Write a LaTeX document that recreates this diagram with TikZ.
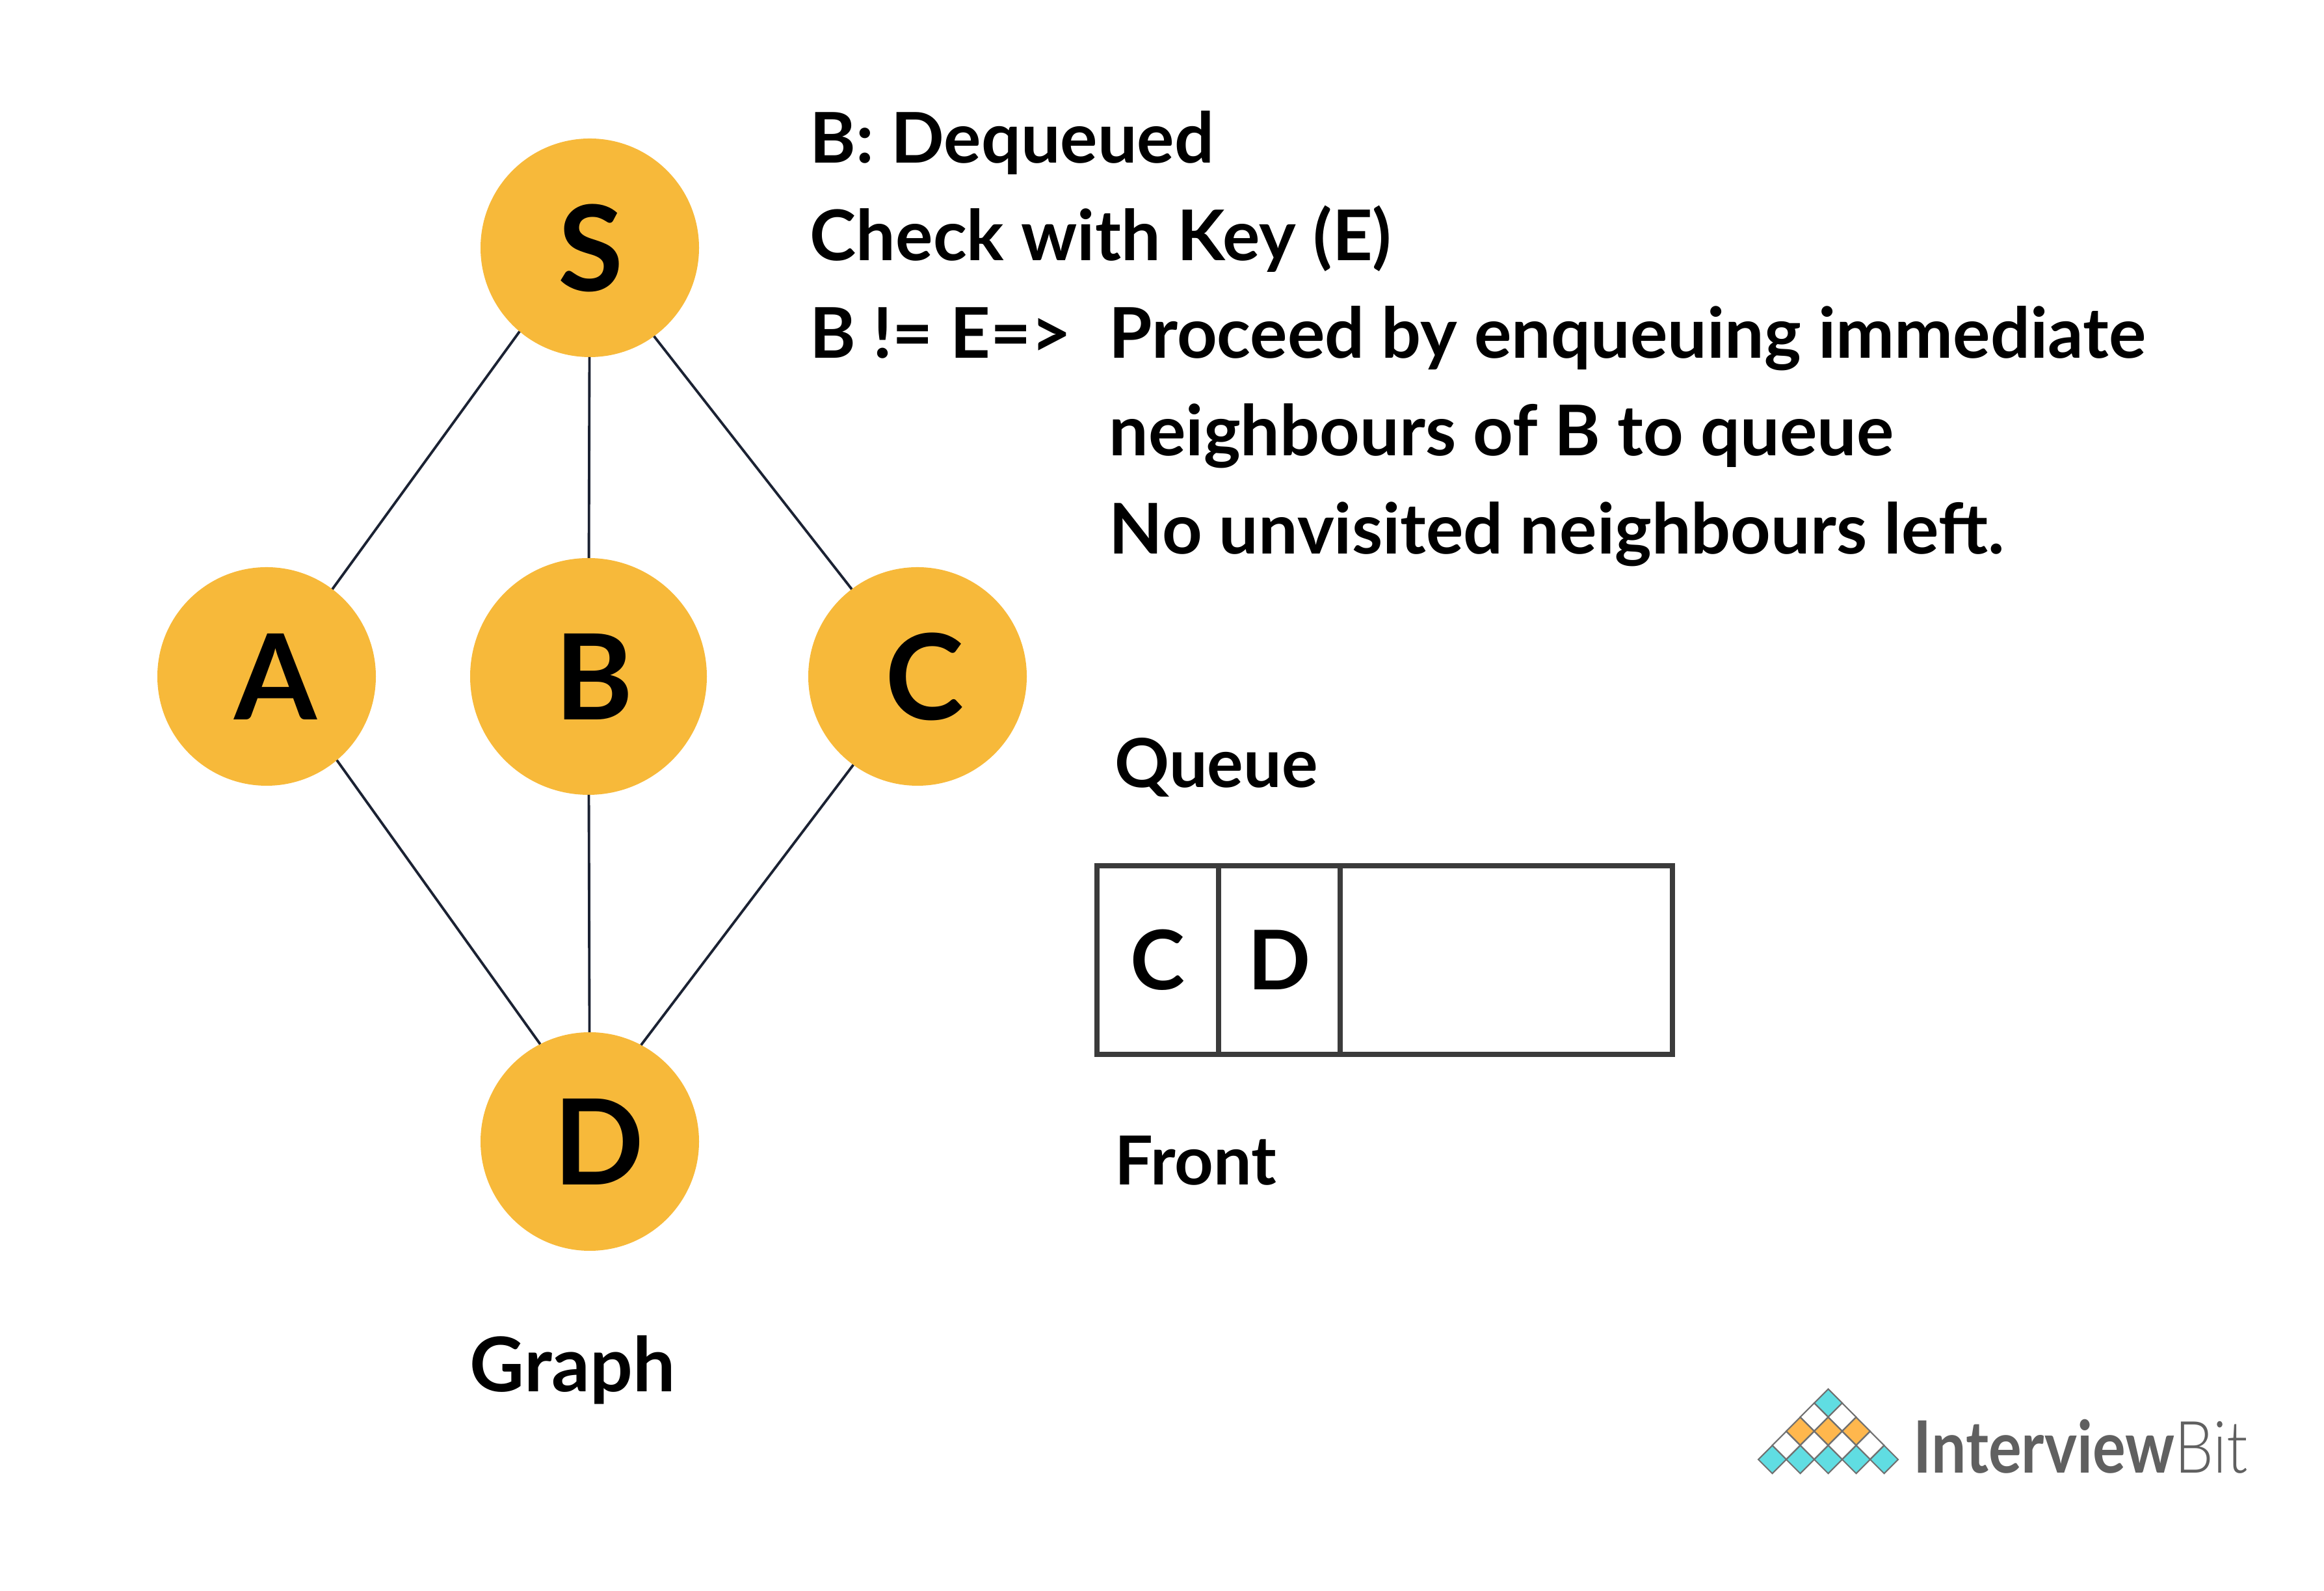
\documentclass[tikz,border=0pt]{standalone}
\usepackage{fontspec}
\setmainfont{Lato}
\newfontfamily\logolight{Lato Light}
\usetikzlibrary{positioning,shapes.geometric}
\definecolor{vertexorange}{HTML}{F7B93A}
\definecolor{edgenavy}{HTML}{1B2233}
\definecolor{cellgrey}{HTML}{3B3B3B}
\definecolor{logoteal}{HTML}{60DDE2}
\definecolor{logoorange}{HTML}{FFB74D}
\definecolor{logogrey}{HTML}{606060}
\tikzset{
  vertex/.style={circle,fill=vertexorange,inner sep=0pt,outer sep=0pt,minimum size=3.36cm,font=\fontsize{52}{52}\selectfont\bfseries},
  bigvertex/.style={vertex,minimum size=3.64cm},
  edge/.style={draw=edgenavy,line width=1.1pt},
  cell/.style={draw=cellgrey,line width=2.3pt,inner sep=0pt,outer sep=0pt,minimum height=2.9cm,font=\fontsize{36}{36}\selectfont\bfseries},
  txt/.style={anchor=base west,inner sep=0pt,font=\fontsize{30.6}{30.6}\selectfont\bfseries},
  smalltxt/.style={txt,font=\fontsize{29.6}{29.6}\selectfont\bfseries},
  tile/.style={diamond,draw=logogrey!90,line width=0.6pt,inner sep=0pt,outer sep=0pt,minimum width=0.43cm,minimum height=0.43cm}
}
\begin{document}
\begin{tikzpicture}[node distance=0cm]
        \useasboundingbox (0,0) rectangle (35.74,24.46);
        \node[vertex] (S) at (9.07,20.65) {\hspace{0.04cm}S};
        \node[vertex] (A) at (4.10,14.06) {\hspace{0.27cm}A};
        \node[bigvertex] (B) at (9.05,14.06) {\hspace{0.18cm}B};
        \node[vertex] (C) at (14.11,14.06) {\hspace{0.22cm}C};
        \node[vertex] (D) at (9.07,6.91) {\hspace{0.27cm}D};
        \draw[edge] (S.-130) -- (A.53);
        \draw[edge] (S) -- (B);
        \draw[edge] (S.-54) -- (C.127);
        \draw[edge] (A.-50) -- (D.117);
        \draw[edge] (B) -- (D);
        \draw[edge] (C.-126) -- (D.62);
        \node[txt,font=\fontsize{33}{33}\selectfont\bfseries] (graphlabel) at (7.22,3.06) {Graph};
        % explanation text
        \node[txt] (line1) at (12.45,21.95) {B: Dequeued};
        \node[txt] (line2) at (12.45,20.45) {Check with Key (E)};
        \node[txt] (line3) at (12.45,18.95) {B != E=>};
        \node[txt] (line3b) at (17.05,18.95) {Proceed by enqueuing immediate};
        \node[txt] (line4) at (17.05,17.45) {neighbours of B to queue};
        \node[txt] (line5) at (17.05,15.94) {No unvisited neighbours left.};
        % queue
        \node[smalltxt] (queuelabel) at (17.14,12.35) {Queue};
        \node[cell,minimum width=1.87cm] (cellC) at (17.805,9.70) {C};
        \node[cell,minimum width=1.87cm,right=of cellC] (cellD) {D};
        \node[cell,minimum width=5.11cm,right=of cellD] (cellE) {};
        \node[smalltxt] (frontlabel) at (17.14,6.24) {Front};
        % logo
        \foreach \r/\n/\c in {0/1/logoteal,1/2/white,2/3/logoorange,3/4/white,4/5/logoteal}{
            \foreach \i in {1,...,\n}{
                \node[tile,fill=\c] (tile\r\i) at ({28.115+0.43*(\i-1)-0.215*\r},{2.89-0.217*\r}) {};
            }
        }
        \node[anchor=base west,inner sep=0pt,text=logogrey,font=\fontsize{27}{27}\selectfont\bfseries] (logotext) at (29.42,1.81) {\scalebox{1}[1.17]{Interview{\logolight\mdseries Bit}}};
\end{tikzpicture}
\end{document}
